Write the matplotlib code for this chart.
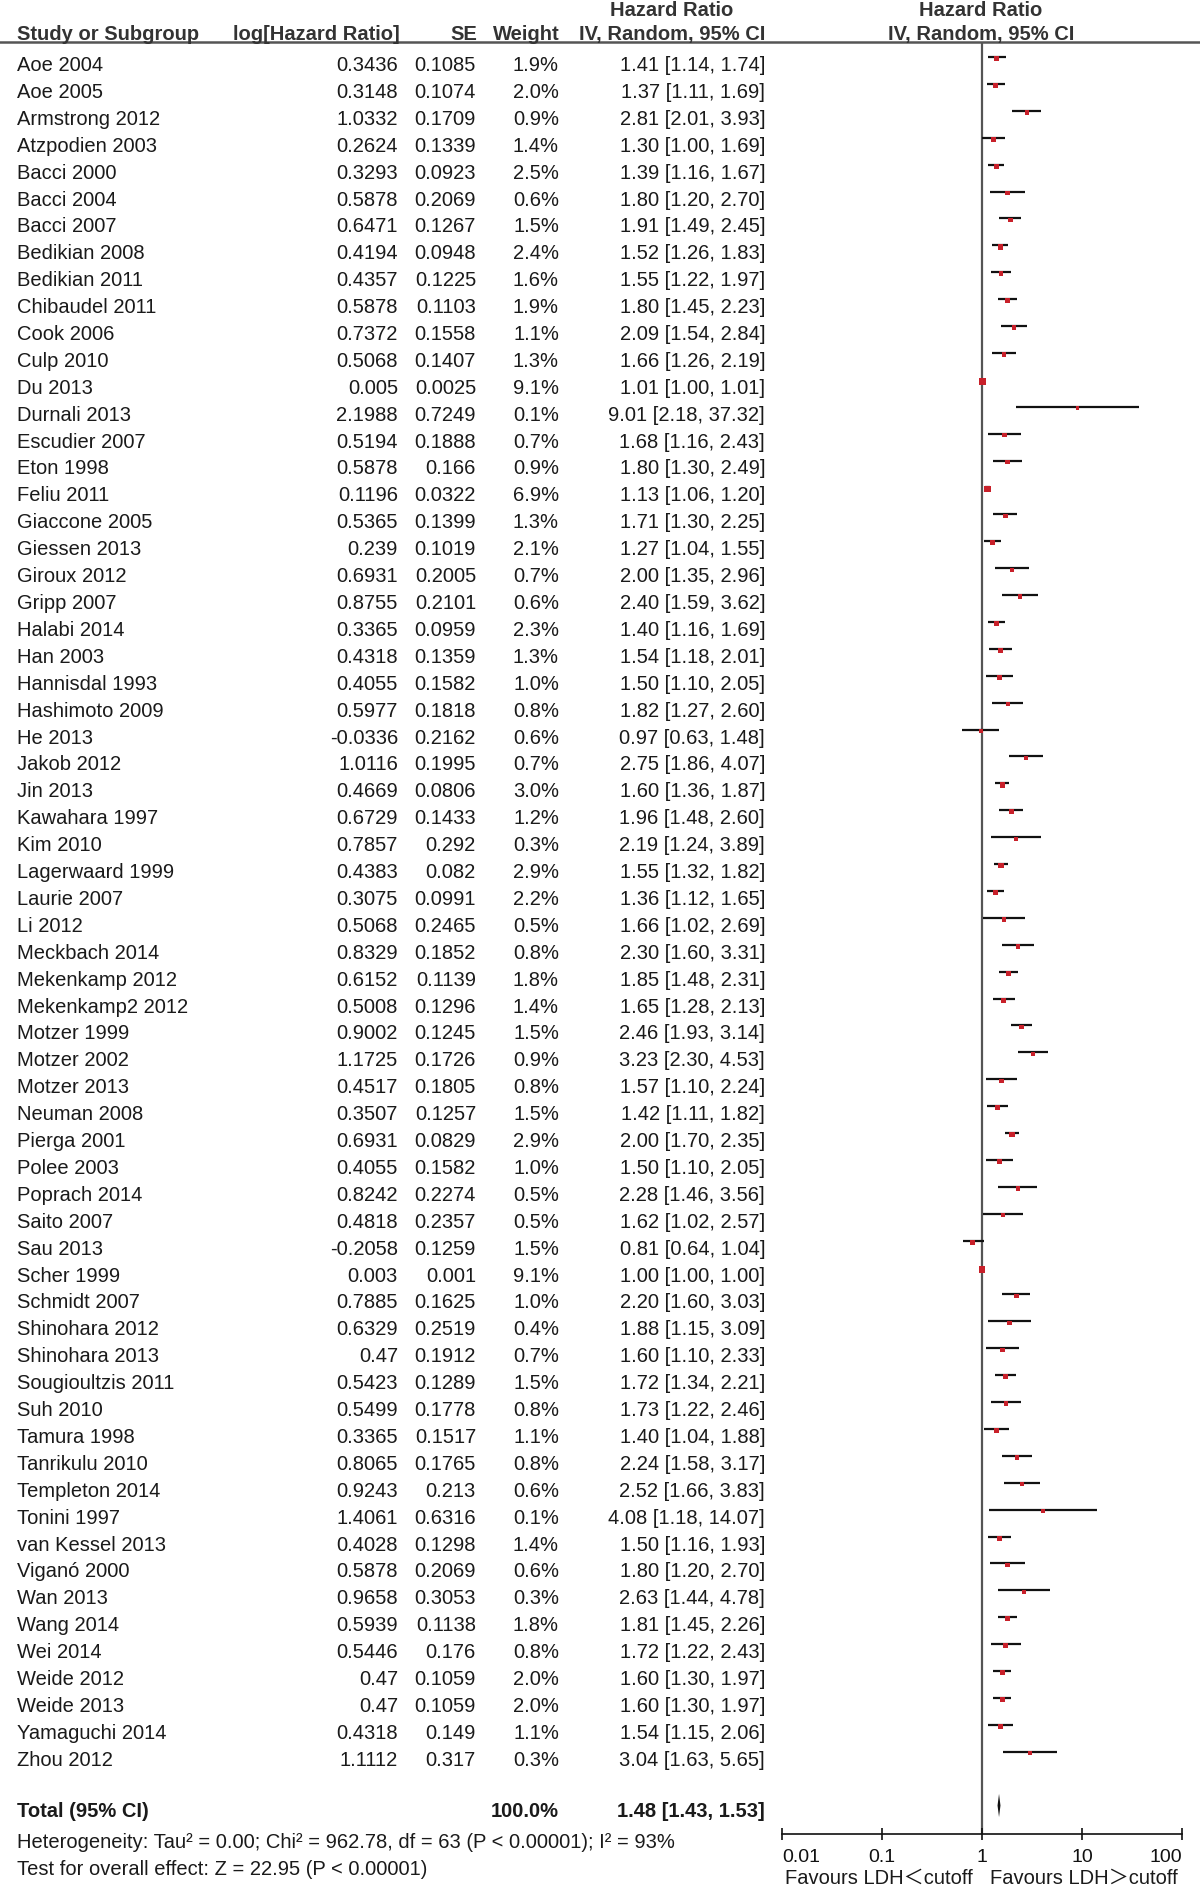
import matplotlib
matplotlib.use('Agg')
import matplotlib.pyplot as plt
import matplotlib.transforms as mtransforms
from matplotlib.lines import Line2D
from matplotlib.ticker import NullLocator, FixedLocator, FixedFormatter
import numpy as np

plt.rcParams['font.family'] = ['Liberation Sans', 'Noto Sans CJK SC', 'DejaVu Sans']

# ---------------- data ----------------
studies = ["Aoe 2004", "Aoe 2005", "Armstrong 2012", "Atzpodien 2003", "Bacci 2000",
           "Bacci 2004", "Bacci 2007", "Bedikian 2008", "Bedikian 2011", "Chibaudel 2011",
           "Cook 2006", "Culp 2010", "Du 2013", "Durnali 2013", "Escudier 2007",
           "Eton 1998", "Feliu 2011", "Giaccone 2005", "Giessen 2013", "Giroux 2012",
           "Gripp 2007", "Halabi 2014", "Han 2003", "Hannisdal 1993", "Hashimoto 2009",
           "He 2013", "Jakob 2012", "Jin 2013", "Kawahara 1997", "Kim 2010",
           "Lagerwaard 1999", "Laurie 2007", "Li 2012", "Meckbach 2014", "Mekenkamp 2012",
           "Mekenkamp2 2012", "Motzer 1999", "Motzer 2002", "Motzer 2013", "Neuman 2008",
           "Pierga 2001", "Polee 2003", "Poprach 2014", "Saito 2007", "Sau 2013",
           "Scher 1999", "Schmidt 2007", "Shinohara 2012", "Shinohara 2013", "Sougioultzis 2011",
           "Suh 2010", "Tamura 1998", "Tanrikulu 2010", "Templeton 2014", "Tonini 1997",
           "van Kessel 2013", "Viganó 2000", "Wan 2013", "Wang 2014", "Wei 2014",
           "Weide 2012", "Weide 2013", "Yamaguchi 2014", "Zhou 2012"]

log_hr = [0.3436, 0.3148, 1.0332, 0.2624, 0.3293,
          0.5878, 0.6471, 0.4194, 0.4357, 0.5878,
          0.7372, 0.5068, 0.005, 2.1988, 0.5194,
          0.5878, 0.1196, 0.5365, 0.239, 0.6931,
          0.8755, 0.3365, 0.4318, 0.4055, 0.5977,
          -0.0336, 1.0116, 0.4669, 0.6729, 0.7857,
          0.4383, 0.3075, 0.5068, 0.8329, 0.6152,
          0.5008, 0.9002, 1.1725, 0.4517, 0.3507,
          0.6931, 0.4055, 0.8242, 0.4818, -0.2058,
          0.003, 0.7885, 0.6329, 0.47, 0.5423,
          0.5499, 0.3365, 0.8065, 0.9243, 1.4061,
          0.4028, 0.5878, 0.9658, 0.5939, 0.5446,
          0.47, 0.47, 0.4318, 1.1112]

se = [0.1085, 0.1074, 0.1709, 0.1339, 0.0923,
      0.2069, 0.1267, 0.0948, 0.1225, 0.1103,
      0.1558, 0.1407, 0.0025, 0.7249, 0.1888,
      0.166, 0.0322, 0.1399, 0.1019, 0.2005,
      0.2101, 0.0959, 0.1359, 0.1582, 0.1818,
      0.2162, 0.1995, 0.0806, 0.1433, 0.292,
      0.082, 0.0991, 0.2465, 0.1852, 0.1139,
      0.1296, 0.1245, 0.1726, 0.1805, 0.1257,
      0.0829, 0.1582, 0.2274, 0.2357, 0.1259,
      0.001, 0.1625, 0.2519, 0.1912, 0.1289,
      0.1778, 0.1517, 0.1765, 0.213, 0.6316,
      0.1298, 0.2069, 0.3053, 0.1138, 0.176,
      0.1059, 0.1059, 0.149, 0.317]

weight = [1.9, 2.0, 0.9, 1.4, 2.5,
          0.6, 1.5, 2.4, 1.6, 1.9,
          1.1, 1.3, 9.1, 0.1, 0.7,
          0.9, 6.9, 1.3, 2.1, 0.7,
          0.6, 2.3, 1.3, 1.0, 0.8,
          0.6, 0.7, 3.0, 1.2, 0.3,
          2.9, 2.2, 0.5, 0.8, 1.8,
          1.4, 1.5, 0.9, 0.8, 1.5,
          2.9, 1.0, 0.5, 0.5, 1.5,
          9.1, 1.0, 0.4, 0.7, 1.5,
          0.8, 1.1, 0.8, 0.6, 0.1,
          1.4, 0.6, 0.3, 1.8, 0.8,
          2.0, 2.0, 1.1, 0.3]

hr = [1.41, 1.37, 2.81, 1.30, 1.39,
      1.80, 1.91, 1.52, 1.55, 1.80,
      2.09, 1.66, 1.01, 9.01, 1.68,
      1.80, 1.13, 1.71, 1.27, 2.00,
      2.40, 1.40, 1.54, 1.50, 1.82,
      0.97, 2.75, 1.60, 1.96, 2.19,
      1.55, 1.36, 1.66, 2.30, 1.85,
      1.65, 2.46, 3.23, 1.57, 1.42,
      2.00, 1.50, 2.28, 1.62, 0.81,
      1.00, 2.20, 1.88, 1.60, 1.72,
      1.73, 1.40, 2.24, 2.52, 4.08,
      1.50, 1.80, 2.63, 1.81, 1.72,
      1.60, 1.60, 1.54, 3.04]

ci_low = [1.14, 1.11, 2.01, 1.00, 1.16,
          1.20, 1.49, 1.26, 1.22, 1.45,
          1.54, 1.26, 1.00, 2.18, 1.16,
          1.30, 1.06, 1.30, 1.04, 1.35,
          1.59, 1.16, 1.18, 1.10, 1.27,
          0.63, 1.86, 1.36, 1.48, 1.24,
          1.32, 1.12, 1.02, 1.60, 1.48,
          1.28, 1.93, 2.30, 1.10, 1.11,
          1.70, 1.10, 1.46, 1.02, 0.64,
          1.00, 1.60, 1.15, 1.10, 1.34,
          1.22, 1.04, 1.58, 1.66, 1.18,
          1.16, 1.20, 1.44, 1.45, 1.22,
          1.30, 1.30, 1.15, 1.63]

ci_high = [1.74, 1.69, 3.93, 1.69, 1.67,
           2.70, 2.45, 1.83, 1.97, 2.23,
           2.84, 2.19, 1.01, 37.32, 2.43,
           2.49, 1.20, 2.25, 1.55, 2.96,
           3.62, 1.69, 2.01, 2.05, 2.60,
           1.48, 4.07, 1.87, 2.60, 3.89,
           1.82, 1.65, 2.69, 3.31, 2.31,
           2.13, 3.14, 4.53, 2.24, 1.82,
           2.35, 2.05, 3.56, 2.57, 1.04,
           1.00, 3.03, 3.09, 2.33, 2.21,
           2.46, 1.88, 3.17, 3.83, 14.07,
           1.93, 2.70, 4.78, 2.26, 2.43,
           1.97, 1.97, 2.06, 5.65]

total_weight = 100.0
total_hr = 1.48
total_low = 1.43
total_high = 1.53
heterogeneity = "Heterogeneity: Tau² = 0.00; Chi² = 962.78, df = 63 (P < 0.00001); I² = 93%"
overall = "Test for overall effect: Z = 22.95 (P < 0.00001)"
xticks = [0.01, 0.1, 1, 10, 100]
xtick_labels = ["0.01", "0.1", "1", "10", "100"]
favours_left = "Favours LDH＜cutoff"
favours_right = "Favours LDH＞cutoff"

# ---------------- layout ----------------
W, H = 1200, 1886
DPI = 100
fig = plt.figure(figsize=(W / DPI, H / DPI), dpi=DPI)
fig.patch.set_facecolor('white')

row0 = 57.0      # pixel y of first row's marks
step = 26.9      # pixel spacing between rows
ax_left, ax_right = 782, 1182
ax_top, ax_bottom = 42, 1834

ax = fig.add_axes([ax_left / W, 1 - ax_bottom / H,
                   (ax_right - ax_left) / W, (ax_bottom - ax_top) / H])
ax.set_xscale('log')
ax.set_xlim(0.01, 100)
ax.set_ylim((ax_bottom - row0) / step, (ax_top - row0) / step)
ax.patch.set_alpha(0)
for s in ['top', 'left', 'right']:
    ax.spines[s].set_visible(False)
ax.spines['bottom'].set_color('#111111')
ax.spines['bottom'].set_linewidth(1.2)
ax.yaxis.set_major_locator(NullLocator())
ax.xaxis.set_minor_locator(NullLocator())
ax.xaxis.set_major_locator(FixedLocator(xticks))
ax.xaxis.set_major_formatter(FixedFormatter(xtick_labels))
ax.tick_params(axis='x', which='major', direction='inout', length=9,
               width=1.2, color='#111111', labelsize=14, pad=6,
               labelcolor='#111111')
tl = ax.get_xticklabels()
tl[0].set_horizontalalignment('left')
tl[-1].set_horizontalalignment('right')

n = len(studies)
rows = np.arange(n)
total_row = n + 1

# vertical reference line at HR = 1
ax.axvline(1, color='#555555', lw=1.6, zorder=1)

# CI lines and squares
ax.hlines(rows, ci_low, ci_high, color='#111111', lw=1.6, zorder=2)
side_px = 3.5 + 1.1 * np.sqrt(np.array(weight))
ax.scatter(hr, rows + 0.06, marker='s', s=(side_px * 0.72) ** 2,
           color='#c8202a', linewidths=0, zorder=3)

# total diamond
dh = 0.43
ax.fill([total_low, total_hr, total_high, total_hr],
        [total_row, total_row - dh, total_row, total_row + dh],
        color='#111111', lw=0, zorder=3)

# header separator line
fig.add_artist(Line2D([0, 1], [1 - 42 / H, 1 - 42 / H], transform=fig.transFigure,
                      color='#555555', lw=1.8))

# ---------------- text ----------------
FS = 14.5
TXT = '#1a1a1a'
HDR = '#333333'

def fx(px):
    return px / W

def fy(py):
    return 1 - py / H

off = mtransforms.ScaledTranslation(0, -0.14, fig.dpi_scale_trans)
rtrans = mtransforms.blended_transform_factory(fig.transFigure, ax.transData) + off

col_study, col_log, col_se, col_w, col_ci = 17, 398, 476, 559, 765

for i in range(n):
    ax.text(fx(col_study), rows[i], studies[i], transform=rtrans, ha='left',
            va='baseline', fontsize=FS, color=TXT, clip_on=False)
    ax.text(fx(col_log), rows[i], f"{log_hr[i]:g}", transform=rtrans, ha='right',
            va='baseline', fontsize=FS, color=TXT, clip_on=False)
    ax.text(fx(col_se), rows[i], f"{se[i]:g}", transform=rtrans, ha='right',
            va='baseline', fontsize=FS, color=TXT, clip_on=False)
    ax.text(fx(col_w), rows[i], f"{weight[i]:.1f}%", transform=rtrans, ha='right',
            va='baseline', fontsize=FS, color=TXT, clip_on=False)
    ax.text(fx(col_ci), rows[i], f"{hr[i]:.2f} [{ci_low[i]:.2f}, {ci_high[i]:.2f}]",
            transform=rtrans, ha='right', va='baseline', fontsize=FS, color=TXT,
            clip_on=False)

# total row
toff = mtransforms.ScaledTranslation(0, -0.115, fig.dpi_scale_trans)
ttrans = mtransforms.blended_transform_factory(fig.transFigure, ax.transData) + toff
ax.text(fx(col_study), total_row, "Total (95% CI)", transform=ttrans, ha='left',
        va='baseline', fontsize=FS, color=TXT, fontweight='bold', clip_on=False)
ax.text(fx(col_w), total_row, f"{total_weight:.1f}%", transform=ttrans, ha='right',
        va='baseline', fontsize=FS, color=TXT, fontweight='bold', clip_on=False)
ax.text(fx(col_ci), total_row, f"{total_hr:.2f} [{total_low:.2f}, {total_high:.2f}]",
        transform=ttrans, ha='right', va='baseline', fontsize=FS, color=TXT,
        fontweight='bold', clip_on=False)

fig.text(fx(col_study), fy(1848), heterogeneity, ha='left', va='baseline',
         fontsize=FS, color=TXT)
fig.text(fx(col_study), fy(1875), overall, ha='left', va='baseline',
         fontsize=FS, color=TXT)

# header
hkw = dict(fontsize=FS, color=HDR, fontweight='bold', va='baseline')
fig.text(fx(col_study), fy(40), "Study or Subgroup", ha='left', **hkw)
fig.text(fx(col_log + 2), fy(40), "log[Hazard Ratio]", ha='right', **hkw)
fig.text(fx(col_se + 1), fy(40), "SE", ha='right', **hkw)
fig.text(fx(col_w + 1), fy(40), "Weight", ha='right', **hkw)
fig.text(fx(672), fy(16), "Hazard Ratio", ha='center', **hkw)
fig.text(fx(672), fy(40), "IV, Random, 95% CI", ha='center', **hkw)
fig.text(fx(981), fy(16), "Hazard Ratio", ha='center', **hkw)
fig.text(fx(981), fy(40), "IV, Random, 95% CI", ha='center', **hkw)

# favours labels
fig.text(fx(973), fy(1884), favours_left, ha='right', va='baseline', fontsize=FS,
         color=TXT)
fig.text(fx(990), fy(1884), favours_right, ha='left', va='baseline', fontsize=FS,
         color=TXT)

fig.savefig('out.png', dpi=DPI, facecolor='white')
